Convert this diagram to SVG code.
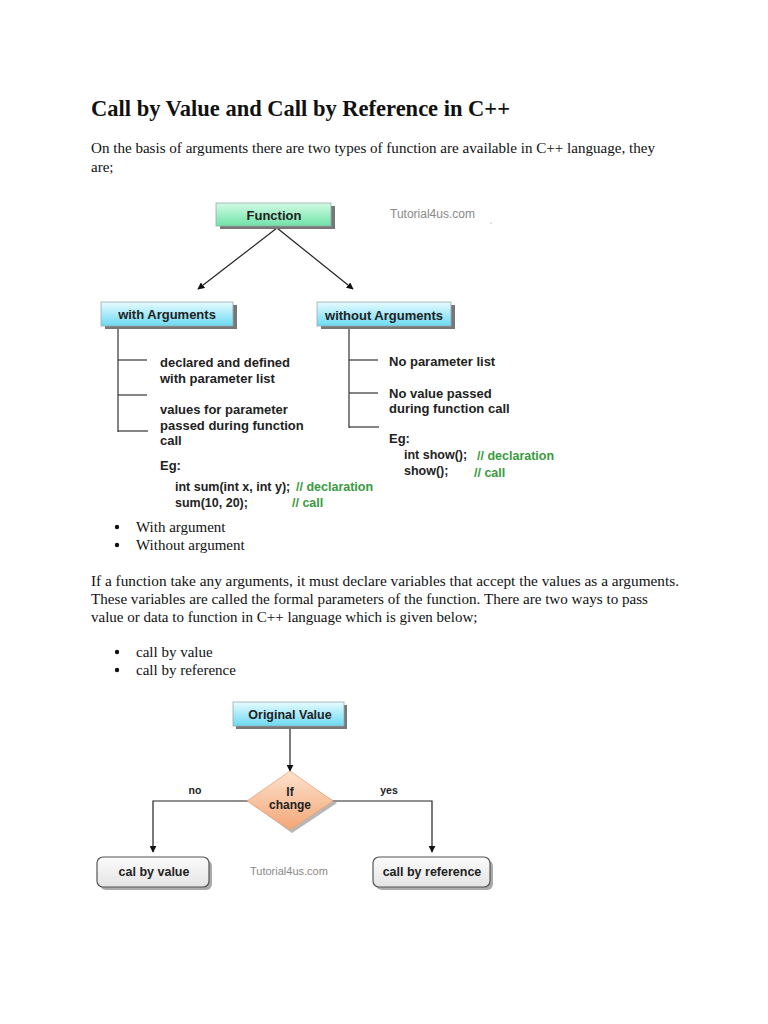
<svg xmlns="http://www.w3.org/2000/svg" width="768" height="1024" viewBox="0 0 768 1024">
<defs>
<linearGradient id="gGreen" x1="0" y1="0" x2="0" y2="1"><stop offset="0" stop-color="#d2fbe4"/><stop offset="1" stop-color="#6fe3a8"/></linearGradient>
<linearGradient id="gCyan" x1="0" y1="0" x2="0" y2="1"><stop offset="0" stop-color="#e6fbff"/><stop offset="1" stop-color="#6cd9f2"/></linearGradient>
<linearGradient id="gOrange" x1="0" y1="0" x2="0" y2="1"><stop offset="0" stop-color="#fde2cc"/><stop offset="1" stop-color="#f3a677"/></linearGradient>
<linearGradient id="gGray" x1="0" y1="0" x2="0" y2="1"><stop offset="0" stop-color="#fbfbfb"/><stop offset="1" stop-color="#e4e4e4"/></linearGradient>
<marker id="ah" viewBox="0 0 10 10" refX="9" refY="5" markerWidth="7" markerHeight="7" orient="auto-start-reverse" markerUnits="userSpaceOnUse"><path d="M0,0 L10,5 L0,10 z" fill="#111"/></marker>
</defs>
<style>
.serif{font-family:"Liberation Serif","Times New Roman",serif;fill:#111}
.body{font-size:15px}
.sans{font-family:"Liberation Sans",Arial,sans-serif;font-weight:bold;fill:#222}
.lbl{font-size:13px}
.code{font-size:12.5px}
.green{fill:#3a9a40}
.box{stroke:#9aa;stroke-width:0.8}
.shadow{fill:#777}
.tick{stroke:#333;stroke-width:1.2;fill:none}
.conn{stroke:#222;stroke-width:1.2;fill:none}
.wm{font-family:"Liberation Sans",Arial,sans-serif;fill:#888}
.dot{fill:#111}
</style>
<rect width="768" height="1024" fill="#fff"/>

<text class="serif" x="91" y="116" font-size="22.5" font-weight="bold">Call by Value and Call by Reference in C++</text>
<text class="serif body" x="91" y="153" textLength="564" lengthAdjust="spacingAndGlyphs">On the basis of arguments there are two types of function are available in C++ language, they</text>
<text class="serif body" x="91" y="172">are;</text>

<g id="connectors">
<line class="conn" x1="277" y1="228" x2="198" y2="289" marker-end="url(#ah)"/>
<line class="conn" x1="277" y1="228" x2="353" y2="289" marker-end="url(#ah)"/>
<polyline class="tick" points="118,328 118,432"/>
<line class="tick" x1="118" y1="360" x2="147" y2="360"/>
<line class="tick" x1="118" y1="395" x2="147" y2="395"/>
<line class="tick" x1="118" y1="431" x2="148" y2="431"/>
<polyline class="tick" points="349,329 349,428"/>
<line class="tick" x1="349" y1="360" x2="378" y2="360"/>
<line class="tick" x1="349" y1="393" x2="378" y2="393"/>
<line class="tick" x1="349" y1="427" x2="379" y2="427"/>
<line class="conn" x1="290" y1="728" x2="290" y2="771" marker-end="url(#ah)"/>
<polyline class="conn" points="249,801 153,801 153,852" marker-end="url(#ah)"/>
<polyline class="conn" points="333,801 432,801 432,852" marker-end="url(#ah)"/>
</g>

<g id="node-function">
<rect class="shadow" x="220" y="206" width="115" height="23"/>
<rect class="box" x="216" y="203" width="115" height="23" fill="url(#gGreen)"/>
<text class="sans lbl" x="274" y="220" text-anchor="middle">Function</text>
</g>
<text class="wm" x="390" y="218" font-size="12">Tutorial4us.com</text>
<circle cx="491" cy="223" r="0.6" fill="#888"/>

<g id="node-with">
<rect class="shadow" x="105" y="305" width="132" height="24"/>
<rect class="box" x="101" y="302" width="132" height="24" fill="url(#gCyan)"/>
<text class="sans lbl" x="167" y="319" text-anchor="middle">with Arguments</text>
</g>
<g id="node-without">
<rect class="shadow" x="321" y="305" width="134" height="24"/>
<rect class="box" x="317" y="302" width="134" height="24" fill="url(#gCyan)"/>
<text class="sans lbl" x="384" y="320" text-anchor="middle">without Arguments</text>
</g>

<g id="with-details">
<text class="sans lbl" x="160" y="367">declared and defined</text>
<text class="sans lbl" x="160" y="383">with parameter list</text>
<text class="sans lbl" x="160" y="414">values for parameter</text>
<text class="sans lbl" x="160" y="430">passed during function</text>
<text class="sans lbl" x="160" y="445">call</text>
<text class="sans lbl" x="160" y="470">Eg:</text>
<text class="sans code" x="175" y="491">int sum(int x, int y);</text>
<text class="sans code green" x="296" y="491">// declaration</text>
<text class="sans code" x="175" y="507">sum(10, 20);</text>
<text class="sans code green" x="292" y="507">// call</text>
</g>

<g id="without-details">
<text class="sans lbl" x="389" y="366">No parameter list</text>
<text class="sans lbl" x="389" y="398">No value passed</text>
<text class="sans lbl" x="389" y="413">during function call</text>
<text class="sans lbl" x="389" y="443">Eg:</text>
<text class="sans code" x="404" y="459">int show();</text>
<text class="sans code green" x="477" y="460">// declaration</text>
<text class="sans code" x="404" y="475">show();</text>
<text class="sans code green" x="474" y="477">// call</text>
</g>

<circle class="dot" cx="117" cy="527" r="2.2"/>
<text class="serif body" x="136" y="532">With argument</text>
<circle class="dot" cx="117" cy="545" r="2.2"/>
<text class="serif body" x="136" y="550">Without argument</text>

<text class="serif body" x="91" y="586" textLength="588" lengthAdjust="spacingAndGlyphs">If a function take any arguments, it must declare variables that accept the values as a arguments.</text>
<text class="serif body" x="91" y="604" textLength="557" lengthAdjust="spacingAndGlyphs">These variables are called the formal parameters of the function. There are two ways to pass</text>
<text class="serif body" x="91" y="622">value or data to function in C++ language which is given below;</text>

<circle class="dot" cx="117" cy="652" r="2.2"/>
<text class="serif body" x="136" y="657">call by value</text>
<circle class="dot" cx="117" cy="670" r="2.2"/>
<text class="serif body" x="136" y="675">call by reference</text>

<g id="node-original">
<rect class="shadow" x="236" y="705" width="111" height="24"/>
<rect class="box" x="233" y="702" width="111" height="24" fill="url(#gCyan)"/>
<text class="sans" x="290" y="719" font-size="12.5" text-anchor="middle">Original Value</text>
</g>

<g id="node-ifchange">
<polygon points="292,774 337,803 292,833 250,803" fill="#999" opacity="0.7"/>
<polygon points="290,771 333,801 290,830 247,801" fill="url(#gOrange)" stroke="#e9a57c" stroke-width="0.8"/>
<text class="sans" x="290" y="796" font-size="12" text-anchor="middle">If</text>
<text class="sans" x="290" y="809" font-size="12" text-anchor="middle">change</text>
</g>
<text class="sans" x="195" y="794" font-size="10.5" text-anchor="middle" fill="#333">no</text>
<text class="sans" x="389" y="794" font-size="10.5" text-anchor="middle" fill="#333">yes</text>

<g id="node-callvalue">
<rect x="100" y="860" width="112" height="30" rx="6" fill="#aaa"/>
<rect x="97" y="857" width="112" height="30" rx="6" fill="url(#gGray)" stroke="#555" stroke-width="1.2"/>
<text class="sans" x="154" y="876" font-size="12.5" text-anchor="middle">cal by value</text>
</g>
<text class="wm" x="250" y="875" font-size="11" fill="#aaa">Tutorial4us.com</text>
<g id="node-callref">
<rect x="376" y="860" width="117" height="30" rx="6" fill="#aaa"/>
<rect x="373" y="857" width="117" height="30" rx="6" fill="url(#gGray)" stroke="#555" stroke-width="1.2"/>
<text class="sans" x="432" y="876" font-size="12.5" text-anchor="middle">call by reference</text>
</g>
</svg>
